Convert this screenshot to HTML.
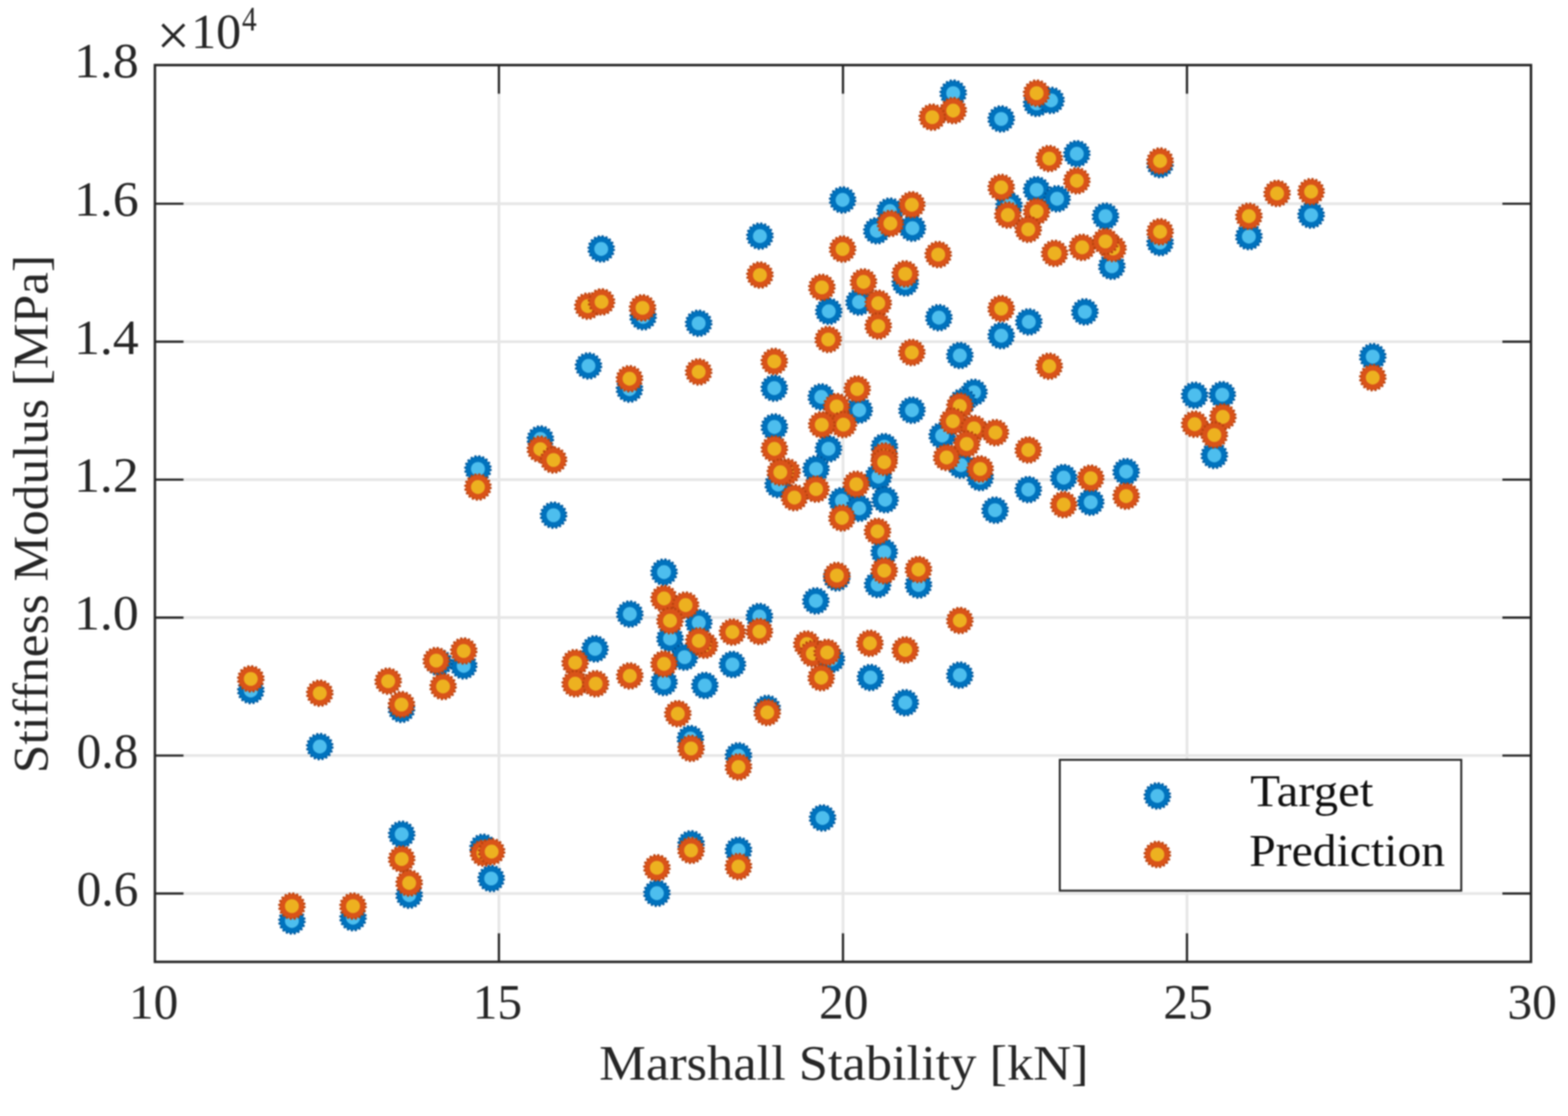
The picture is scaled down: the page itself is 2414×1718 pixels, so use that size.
<!DOCTYPE html>
<html><head><meta charset="utf-8"><title>Stiffness Modulus vs Marshall Stability</title>
<style>html,body{margin:0;padding:0;background:#fff;}body{width:2414px;height:1718px;overflow:hidden;}svg{display:block;filter:blur(0.9px);}</style>
</head><body>
<svg width="2414" height="1718" viewBox="0 0 2414 1718"><defs>
<g id="mb"><circle r="14.9" fill="#4DBEEE" stroke="#0072BD" stroke-width="8.4"/><circle r="19.6" fill="none" stroke="#00589c" stroke-width="3.2" stroke-dasharray="3.2 2.96"/></g>
<g id="mo"><circle r="14.9" fill="#EDB120" stroke="#D95319" stroke-width="8.4"/><circle r="19.6" fill="none" stroke="#b8420f" stroke-width="3.2" stroke-dasharray="3.2 2.96"/></g>
</defs>
<rect x="0" y="0" width="2414" height="1718" fill="#ffffff"/>
<path d="M768.1 100.2V1480.7M1297.8 100.2V1480.7M1827.4 100.2V1480.7M238.5 1375.5H2357.0M238.5 1163.1H2357.0M238.5 950.7H2357.0M238.5 738.4H2357.0M238.5 526.0H2357.0M238.5 313.6H2357.0" stroke="#e6e6e6" stroke-width="4.2" fill="none"/>
<g><use href="#mb" x="925.6" y="383.2"/><use href="#mb" x="1169.9" y="363.5"/><use href="#mb" x="1275.9" y="479.2"/><use href="#mb" x="735.8" y="721.9"/><use href="#mb" x="831.9" y="675.8"/><use href="#mb" x="852.2" y="793.1"/><use href="#mb" x="386.1" y="1063.0"/><use href="#mb" x="492.3" y="1149.3"/><use href="#mb" x="618.1" y="1092.0"/><use href="#mb" x="713.9" y="1025.0"/><use href="#mb" x="676.0" y="1020.0"/><use href="#mb" x="618.4" y="1284.3"/><use href="#mb" x="629.9" y="1378.0"/><use href="#mb" x="449.4" y="1417.7"/><use href="#mb" x="543.5" y="1412.7"/><use href="#mb" x="743.6" y="1304.3"/><use href="#mb" x="756.2" y="1352.4"/><use href="#mb" x="990.1" y="487.7"/><use href="#mb" x="1075.6" y="497.6"/><use href="#mb" x="906.0" y="563.3"/><use href="#mb" x="969.1" y="599.0"/><use href="#mb" x="1297.2" y="307.8"/><use href="#mb" x="1349.8" y="355.2"/><use href="#mb" x="1370.0" y="325.0"/><use href="#mb" x="1404.7" y="351.3"/><use href="#mb" x="1467.5" y="143.4"/><use href="#mb" x="1541.4" y="183.1"/><use href="#mb" x="1595.9" y="159.1"/><use href="#mb" x="1618.1" y="154.5"/><use href="#mb" x="1657.8" y="236.7"/><use href="#mb" x="1595.9" y="292.1"/><use href="#mb" x="1627.4" y="306.0"/><use href="#mb" x="1553.4" y="316.2"/><use href="#mb" x="1786.0" y="253.3"/><use href="#mb" x="1701.9" y="332.8"/><use href="#mb" x="1786.0" y="373.4"/><use href="#mb" x="1922.7" y="364.2"/><use href="#mb" x="2018.5" y="331.1"/><use href="#mb" x="1711.7" y="409.9"/><use href="#mb" x="1670.2" y="480.1"/><use href="#mb" x="1839.2" y="608.5"/><use href="#mb" x="1881.7" y="607.6"/><use href="#mb" x="2113.4" y="549.0"/><use href="#mb" x="1393.6" y="435.4"/><use href="#mb" x="1322.5" y="465.0"/><use href="#mb" x="1445.4" y="489.0"/><use href="#mb" x="1541.4" y="516.7"/><use href="#mb" x="1583.9" y="495.5"/><use href="#mb" x="1477.7" y="547.2"/><use href="#mb" x="1322.8" y="631.3"/><use href="#mb" x="1404.0" y="631.5"/><use href="#mb" x="1499.5" y="604.0"/><use href="#mb" x="1482.3" y="618.3"/><use href="#mb" x="1450.5" y="670.5"/><use href="#mb" x="1361.6" y="687.6"/><use href="#mb" x="1264.4" y="611.0"/><use href="#mb" x="1275.5" y="690.9"/><use href="#mb" x="1256.3" y="721.9"/><use href="#mb" x="1352.3" y="733.7"/><use href="#mb" x="1362.7" y="769.2"/><use href="#mb" x="1296.2" y="770.7"/><use href="#mb" x="1322.8" y="782.5"/><use href="#mb" x="1479.4" y="716.0"/><use href="#mb" x="1509.0" y="735.2"/><use href="#mb" x="1531.9" y="785.4"/><use href="#mb" x="1192.0" y="597.5"/><use href="#mb" x="1192.2" y="657.3"/><use href="#mb" x="1198.0" y="746.0"/><use href="#mb" x="1022.3" y="880.8"/><use href="#mb" x="1583.1" y="753.7"/><use href="#mb" x="1637.6" y="735.2"/><use href="#mb" x="1679.2" y="773.1"/><use href="#mb" x="1733.7" y="726.0"/><use href="#mb" x="1869.5" y="701.0"/><use href="#mb" x="969.6" y="945.3"/><use href="#mb" x="1075.8" y="958.5"/><use href="#mb" x="1031.5" y="983.0"/><use href="#mb" x="1053.9" y="1011.6"/><use href="#mb" x="1022.3" y="1050.6"/><use href="#mb" x="916.0" y="998.9"/><use href="#mb" x="1169.1" y="949.0"/><use href="#mb" x="1127.6" y="1022.9"/><use href="#mb" x="1085.1" y="1055.2"/><use href="#mb" x="1062.9" y="1137.0"/><use href="#mb" x="1181.2" y="1090.5"/><use href="#mb" x="1256.0" y="925.0"/><use href="#mb" x="1361.3" y="849.9"/><use href="#mb" x="1351.2" y="899.8"/><use href="#mb" x="1414.0" y="900.5"/><use href="#mb" x="1280.0" y="1015.0"/><use href="#mb" x="1340.1" y="1043.0"/><use href="#mb" x="1393.7" y="1081.8"/><use href="#mb" x="1477.7" y="1039.3"/><use href="#mb" x="1136.9" y="1163.5"/><use href="#mb" x="1063.9" y="1299.0"/><use href="#mb" x="1011.3" y="1375.0"/><use href="#mb" x="1136.9" y="1309.0"/><use href="#mb" x="1266.3" y="1259.2"/><use href="#mb" x="1288.2" y="889.5"/><use href="#mo" x="1169.9" y="423.4"/><use href="#mo" x="1265.3" y="442.4"/><use href="#mo" x="905.0" y="471.3"/><use href="#mo" x="926.1" y="464.7"/><use href="#mo" x="989.2" y="473.9"/><use href="#mo" x="735.8" y="749.7"/><use href="#mo" x="831.9" y="691.5"/><use href="#mo" x="852.2" y="708.1"/><use href="#mo" x="386.1" y="1045.1"/><use href="#mo" x="492.3" y="1067.1"/><use href="#mo" x="597.6" y="1048.6"/><use href="#mo" x="618.1" y="1084.6"/><use href="#mo" x="671.7" y="1016.9"/><use href="#mo" x="713.9" y="1002.1"/><use href="#mo" x="682.1" y="1056.8"/><use href="#mo" x="618.4" y="1322.4"/><use href="#mo" x="629.9" y="1359.3"/><use href="#mo" x="449.4" y="1394.9"/><use href="#mo" x="543.5" y="1394.9"/><use href="#mo" x="744.3" y="1313.2"/><use href="#mo" x="756.9" y="1311.0"/><use href="#mo" x="969.1" y="583.0"/><use href="#mo" x="1075.6" y="572.5"/><use href="#mo" x="1297.2" y="383.4"/><use href="#mo" x="1329.4" y="434.0"/><use href="#mo" x="1370.8" y="344.0"/><use href="#mo" x="1403.8" y="315.2"/><use href="#mo" x="1467.5" y="170.2"/><use href="#mo" x="1435.2" y="180.4"/><use href="#mo" x="1595.9" y="143.4"/><use href="#mo" x="1615.3" y="244.1"/><use href="#mo" x="1657.8" y="278.3"/><use href="#mo" x="1541.4" y="288.5"/><use href="#mo" x="1551.6" y="331.0"/><use href="#mo" x="1595.9" y="325.4"/><use href="#mo" x="1583.0" y="353.1"/><use href="#mo" x="1444.4" y="391.9"/><use href="#mo" x="1623.6" y="390.0"/><use href="#mo" x="1666.1" y="380.8"/><use href="#mo" x="1786.0" y="247.8"/><use href="#mo" x="1713.5" y="382.5"/><use href="#mo" x="1701.9" y="371.6"/><use href="#mo" x="1786.0" y="356.8"/><use href="#mo" x="1922.7" y="332.8"/><use href="#mo" x="1966.1" y="297.7"/><use href="#mo" x="2018.5" y="295.0"/><use href="#mo" x="1839.2" y="653.0"/><use href="#mo" x="1882.6" y="641.8"/><use href="#mo" x="2113.4" y="581.3"/><use href="#mo" x="1393.6" y="421.6"/><use href="#mo" x="1352.1" y="466.8"/><use href="#mo" x="1352.1" y="501.9"/><use href="#mo" x="1541.4" y="475.1"/><use href="#mo" x="1403.8" y="542.6"/><use href="#mo" x="1615.3" y="563.8"/><use href="#mo" x="1319.7" y="598.9"/><use href="#mo" x="1288.0" y="625.7"/><use href="#mo" x="1298.5" y="653.6"/><use href="#mo" x="1265.1" y="653.9"/><use href="#mo" x="1477.7" y="625.0"/><use href="#mo" x="1467.0" y="648.5"/><use href="#mo" x="1499.5" y="659.5"/><use href="#mo" x="1532.5" y="666.0"/><use href="#mo" x="1488.3" y="683.5"/><use href="#mo" x="1457.3" y="704.2"/><use href="#mo" x="1509.0" y="721.9"/><use href="#mo" x="1361.6" y="702.0"/><use href="#mo" x="1361.2" y="711.5"/><use href="#mo" x="1256.3" y="752.9"/><use href="#mo" x="1318.3" y="745.5"/><use href="#mo" x="1296.2" y="797.3"/><use href="#mo" x="1350.9" y="818.0"/><use href="#mo" x="1275.1" y="522.6"/><use href="#mo" x="1192.0" y="556.4"/><use href="#mo" x="1192.2" y="691.0"/><use href="#mo" x="1211.7" y="726.3"/><use href="#mo" x="1201.3" y="727.0"/><use href="#mo" x="1223.0" y="766.0"/><use href="#mo" x="1583.1" y="692.7"/><use href="#mo" x="1679.2" y="736.1"/><use href="#mo" x="1637.6" y="776.8"/><use href="#mo" x="1733.7" y="763.8"/><use href="#mo" x="1869.5" y="669.6"/><use href="#mo" x="1022.3" y="921.3"/><use href="#mo" x="1055.5" y="931.5"/><use href="#mo" x="1031.5" y="955.5"/><use href="#mo" x="1084.7" y="993.2"/><use href="#mo" x="1075.8" y="986.5"/><use href="#mo" x="1022.3" y="1022.0"/><use href="#mo" x="969.6" y="1040.5"/><use href="#mo" x="885.5" y="1020.1"/><use href="#mo" x="885.5" y="1052.5"/><use href="#mo" x="917.0" y="1052.5"/><use href="#mo" x="1127.6" y="973.0"/><use href="#mo" x="1169.1" y="972.1"/><use href="#mo" x="1043.5" y="1098.7"/><use href="#mo" x="1181.2" y="1096.8"/><use href="#mo" x="1242.1" y="991.5"/><use href="#mo" x="1251.4" y="1006.3"/><use href="#mo" x="1273.5" y="1004.4"/><use href="#mo" x="1264.3" y="1043.2"/><use href="#mo" x="1361.3" y="878.5"/><use href="#mo" x="1414.0" y="876.7"/><use href="#mo" x="1288.4" y="885.9"/><use href="#mo" x="1477.7" y="955.2"/><use href="#mo" x="1339.2" y="990.3"/><use href="#mo" x="1393.7" y="1000.5"/><use href="#mo" x="1063.9" y="1152.1"/><use href="#mo" x="1136.9" y="1180.7"/><use href="#mo" x="1063.9" y="1309.1"/><use href="#mo" x="1011.3" y="1335.9"/><use href="#mo" x="1136.9" y="1334.0"/></g>
<path d="M768.1 1480.7v-44M768.1 100.2v44M1297.8 1480.7v-44M1297.8 100.2v44M1827.4 1480.7v-44M1827.4 100.2v44M238.5 1375.5h44M2357.0 1375.5h-44M238.5 1163.1h44M2357.0 1163.1h-44M238.5 950.7h44M2357.0 950.7h-44M238.5 738.4h44M2357.0 738.4h-44M238.5 526.0h44M2357.0 526.0h-44M238.5 313.6h44M2357.0 313.6h-44" stroke="#262626" stroke-width="3.4" fill="none"/>
<rect x="238.5" y="100.2" width="2118.5" height="1380.5" stroke="#262626" stroke-width="3.8" fill="none"/>
<rect x="1631.6" y="1169.7" width="618.1" height="201.4" fill="#ffffff" stroke="#262626" stroke-width="3"/>
<use href="#mb" x="1781.8" y="1225.3"/>
<use href="#mo" x="1781.8" y="1315.4"/>
<g font-family="'Liberation Serif', 'DejaVu Serif', serif" fill="#262626"><text x="236.6" y="1567.6" text-anchor="middle" font-size="76">10</text><text x="765.7" y="1567.6" text-anchor="middle" font-size="76">15</text><text x="1299.0" y="1567.6" text-anchor="middle" font-size="76">20</text><text x="1828.9" y="1567.6" text-anchor="middle" font-size="76">25</text><text x="2358.8" y="1567.6" text-anchor="middle" font-size="76">30</text><text x="213" y="1394.1" text-anchor="end" font-size="76">0.6</text><text x="213" y="1181.7" text-anchor="end" font-size="76">0.8</text><text x="213.5" y="969.3" text-anchor="end" font-size="76" textLength="99.6" lengthAdjust="spacingAndGlyphs">1.0</text><text x="213.5" y="757.0" text-anchor="end" font-size="76" textLength="99.6" lengthAdjust="spacingAndGlyphs">1.2</text><text x="213.5" y="544.6" text-anchor="end" font-size="76" textLength="99.6" lengthAdjust="spacingAndGlyphs">1.4</text><text x="213.5" y="332.2" text-anchor="end" font-size="76" textLength="99.6" lengthAdjust="spacingAndGlyphs">1.6</text><text x="213.5" y="118.8" text-anchor="end" font-size="76" textLength="99.6" lengthAdjust="spacingAndGlyphs">1.8</text><text x="241.3" y="85.4" font-size="90.6">&#215;</text><text x="294.2" y="74.3" font-size="77">10</text><text x="372.5" y="47.4" font-size="52" textLength="22.7" lengthAdjust="spacingAndGlyphs">4</text><text x="922.6" y="1662.3" font-size="77" textLength="753.4" lengthAdjust="spacingAndGlyphs">Marshall Stability [kN]</text><text transform="translate(72.8 1190.3) rotate(-90)" x="0" y="0" font-size="77" textLength="797.8" lengthAdjust="spacingAndGlyphs">Stiffness Modulus [MPa]</text><text x="1924.7" y="1240.6" font-size="69" fill="#111" textLength="189.7" lengthAdjust="spacingAndGlyphs">Target</text><text x="1923.2" y="1332.6" font-size="69" fill="#111" textLength="301.6" lengthAdjust="spacingAndGlyphs">Prediction</text></g></svg>
</body></html>
